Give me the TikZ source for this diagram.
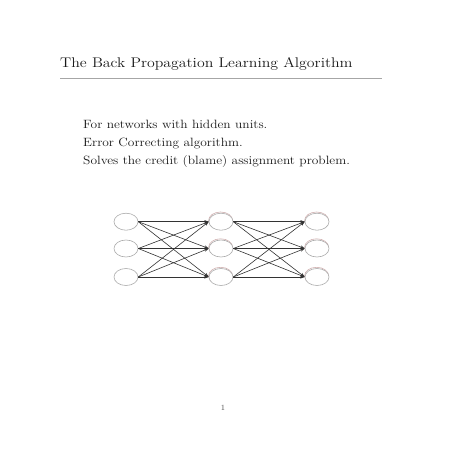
\documentclass[tikz,border=0pt]{standalone}
\usepackage{tikz}
\usetikzlibrary{shapes.geometric,arrows.meta}

\tikzset{
    unit/.style={ellipse, draw=gray!65, line width=0.6pt, minimum width=24pt,
        minimum height=17pt, inner sep=0pt},
    weight/.style={draw=black!80, line width=0.6pt, -{Stealth[length=4.5pt,width=3.2pt]}},
    slidetext/.style={anchor=base west, inner sep=0pt, text=black!90}
}

\begin{document}
\begin{tikzpicture}[x=1pt, y=-1pt]
    \useasboundingbox[fill=white] (0,0) rectangle (452,452);

    % Heading and rule
    \node[slidetext] (title) at (60,67)
        {\fontsize{14}{16}\selectfont\scalebox{1.13}[1]{The Back Propagation Learning Algorithm}};
    \draw[gray!70, line width=1.1pt] (60,78.3) -- (382,78.3);

    % The three lines of text
    \node[slidetext] (line1) at (83,128)
        {\fontsize{12}{14}\selectfont\scalebox{1.12}[1]{For networks with hidden units.}};
    \node[slidetext] (line2) at (83,146)
        {\fontsize{12}{14}\selectfont\scalebox{1.12}[1]{Error Correcting algorithm.}};
    \node[slidetext] (line3) at (83,164)
        {\fontsize{12}{14}\selectfont\scalebox{1.12}[1]{Solves the credit (blame) assignment problem.}};

    % Units of the three layers
    % a faint reddish outline, a little higher, behind hidden and output units
    \foreach \n/\y in {1/221.7,2/248.5,3/277} {
        \node[unit] (in\n) at (126,\y) {};
        \node[unit, draw=red!25!gray!50] at (220.6,\y-1.2) {};
        \node[unit, draw=red!25!gray!50] at (316.6,\y-1.2) {};
        \node[unit, fill=white] (hid\n) at (221,\y) {};
        \node[unit, fill=white] (out\n) at (317,\y) {};
    }

    % Every unit feeds every unit of the next layer
    \foreach \a in {1,2,3} {
        \foreach \b in {1,2,3} {
            \draw[weight] (in\a.east) -- (hid\b.west);
            \draw[weight] (hid\a.east) -- (out\b.west);
        }
    }

    % Page number
    \node[inner sep=0pt, text=black!70] (page) at (223,408) {\fontsize{8}{9}\selectfont 1};
\end{tikzpicture}
\end{document}
